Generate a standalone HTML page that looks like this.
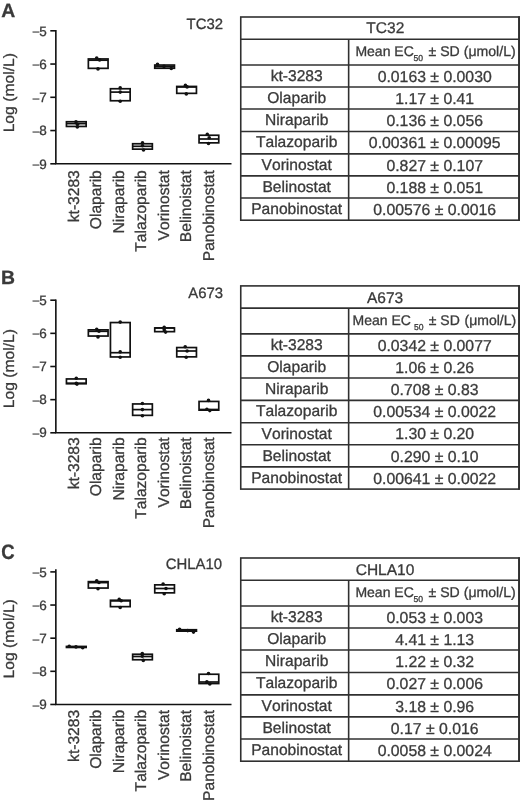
<!DOCTYPE html>
<html lang="en"><head><meta charset="utf-8"><title>Figure</title>
<style>html,body{margin:0;padding:0;background:#fff}svg{display:block}text{font-family:"Liberation Sans", sans-serif;fill:#3a3a3a;font-kerning:none;text-rendering:geometricPrecision;stroke:#3a3a3a;stroke-width:0.3px}.ax{stroke:#111;stroke-width:1.6;fill:none;stroke-linecap:butt}.bx{stroke:#111;stroke-width:1.7;fill:none}.dt{fill:#111}.tb{stroke:#303030;stroke-width:1.6;fill:none}</style></head><body>
<svg width="520" height="801" viewBox="0 0 520 801">
<rect width="520" height="801" fill="#fff"/>
<g transform="translate(0,0.00)">
<text transform="translate(1.25,16.90) scale(1.010,1)" font-size="19.2" font-weight="bold" stroke="#3a3a3a" stroke-width="0.3">A</text>
<text x="223.00" y="28.50" font-size="14.9" text-anchor="end">TC32</text>
<path class="ax" d="M55.85 30.00 V163.80 H231.50"/>
<path class="ax" d="M50.30 30.80 H55.85"/>
<text x="46.8" y="35.60" font-size="13.5" text-anchor="end"><tspan font-size="11.6" dy="-0.45">–</tspan><tspan dy="0.45">5</tspan></text>
<path class="ax" d="M50.30 64.05 H55.85"/>
<text x="46.8" y="68.85" font-size="13.5" text-anchor="end"><tspan font-size="11.6" dy="-0.45">–</tspan><tspan dy="0.45">6</tspan></text>
<path class="ax" d="M50.30 97.30 H55.85"/>
<text x="46.8" y="102.10" font-size="13.5" text-anchor="end"><tspan font-size="11.6" dy="-0.45">–</tspan><tspan dy="0.45">7</tspan></text>
<path class="ax" d="M50.30 130.55 H55.85"/>
<text x="46.8" y="135.35" font-size="13.5" text-anchor="end"><tspan font-size="11.6" dy="-0.45">–</tspan><tspan dy="0.45">8</tspan></text>
<path class="ax" d="M50.30 163.80 H55.85"/>
<text x="46.8" y="168.60" font-size="13.5" text-anchor="end"><tspan font-size="11.6" dy="-0.45">–</tspan><tspan dy="0.45">9</tspan></text>
<text transform="translate(13.7,92.70) rotate(-90) scale(1.045,1)" font-size="15.0" text-anchor="middle">Log (mol/L)</text>
<text transform="translate(78.90,170.20) rotate(-90)" font-size="15.6" text-anchor="end">kt-3283</text>
<text transform="translate(101.38,170.20) rotate(-90)" font-size="15.6" text-anchor="end">Olaparib</text>
<text transform="translate(123.86,170.20) rotate(-90)" font-size="15.6" text-anchor="end">Niraparib</text>
<text transform="translate(146.34,170.20) rotate(-90)" font-size="15.6" text-anchor="end">Talazoparib</text>
<text transform="translate(168.82,170.20) rotate(-90)" font-size="15.6" text-anchor="end">Vorinostat</text>
<text transform="translate(191.30,170.20) rotate(-90)" font-size="15.6" text-anchor="end">Belinoistat</text>
<text transform="translate(213.78,170.20) rotate(-90)" font-size="15.6" text-anchor="end">Panobinostat</text>
<rect class="bx" x="66.45" y="121.75" width="19.70" height="4.70"/>
<path class="bx" d="M66.45 123.60 H86.15"/>
<rect class="bx" x="88.35" y="58.95" width="19.70" height="9.40"/>
<path class="bx" d="M88.35 60.20 H108.05"/>
<rect class="bx" x="110.45" y="88.75" width="19.70" height="12.00"/>
<path class="bx" d="M110.45 92.10 H130.15"/>
<rect class="bx" x="132.65" y="143.75" width="19.70" height="5.40"/>
<path class="bx" d="M132.65 146.30 H152.35"/>
<rect class="bx" x="154.75" y="65.05" width="19.70" height="3.20"/>
<path class="bx" d="M154.75 66.60 H174.45"/>
<rect class="bx" x="176.75" y="86.45" width="19.70" height="6.90"/>
<path class="bx" d="M176.75 87.00 H196.45"/>
<rect class="bx" x="199.05" y="135.25" width="19.70" height="7.60"/>
<path class="bx" d="M199.05 139.00 H218.75"/>
<circle class="dt" cx="76.00" cy="121.70" r="1.8"/>
<circle class="dt" cx="77.50" cy="124.20" r="1.8"/>
<circle class="dt" cx="77.30" cy="126.90" r="1.8"/>
<circle class="dt" cx="96.70" cy="58.00" r="1.8"/>
<circle class="dt" cx="99.60" cy="59.90" r="1.8"/>
<circle class="dt" cx="98.00" cy="68.90" r="1.8"/>
<circle class="dt" cx="120.20" cy="87.90" r="1.8"/>
<circle class="dt" cx="120.20" cy="92.10" r="1.8"/>
<circle class="dt" cx="120.20" cy="101.30" r="1.8"/>
<circle class="dt" cx="142.50" cy="142.90" r="1.8"/>
<circle class="dt" cx="142.50" cy="145.80" r="1.8"/>
<circle class="dt" cx="143.50" cy="150.00" r="1.8"/>
<circle class="dt" cx="157.50" cy="64.30" r="1.8"/>
<circle class="dt" cx="164.00" cy="66.40" r="1.8"/>
<circle class="dt" cx="171.30" cy="68.50" r="1.8"/>
<circle class="dt" cx="185.40" cy="85.40" r="1.8"/>
<circle class="dt" cx="187.10" cy="86.90" r="1.8"/>
<circle class="dt" cx="186.30" cy="93.90" r="1.8"/>
<circle class="dt" cx="207.30" cy="134.40" r="1.8"/>
<circle class="dt" cx="209.20" cy="137.70" r="1.8"/>
<circle class="dt" cx="208.50" cy="143.50" r="1.8"/>
<rect class="tb" x="240.75" y="17.00" width="278.25" height="203.20"/>
<path class="tb" d="M240.75 39.20 H519.00"/>
<path class="tb" d="M240.75 65.00 H519.00"/>
<path class="tb" d="M240.75 87.00 H519.00"/>
<path class="tb" d="M240.75 109.05 H519.00"/>
<path class="tb" d="M240.75 131.50 H519.00"/>
<path class="tb" d="M240.75 153.85 H519.00"/>
<path class="tb" d="M240.75 175.90 H519.00"/>
<path class="tb" d="M240.75 198.00 H519.00"/>
<path class="tb" d="M348.65 39.20 V220.20"/>
<path class="tb" style="stroke-width:2" d="M519.2 16.30 V220.90"/>
<text x="385.30" y="33.15" font-size="15.5" text-anchor="middle">TC32</text>
<text x="355.40" y="56" font-size="14">Mean EC</text>
<text x="413.50" y="61.2" font-size="8.6">50</text>
<text x="515.7" y="56" font-size="14.1" text-anchor="end">± SD (μmol/L)</text>
<text x="296.7" y="81.10" font-size="15.6" text-anchor="middle">kt-3283</text>
<text x="434.7" y="82.00" font-size="15.8" text-anchor="middle">0.0163 ± 0.0030</text>
<text x="296.7" y="102.75" font-size="15.6" text-anchor="middle">Olaparib</text>
<text x="434.7" y="103.65" font-size="15.8" text-anchor="middle">1.17 ± 0.41</text>
<text x="296.7" y="124.75" font-size="15.6" text-anchor="middle">Niraparib</text>
<text x="434.7" y="125.65" font-size="15.8" text-anchor="middle">0.136 ± 0.056</text>
<text x="296.7" y="147.20" font-size="15.6" text-anchor="middle">Talazoparib</text>
<text x="434.7" y="148.10" font-size="15.8" text-anchor="middle">0.00361 ± 0.00095</text>
<text x="296.7" y="169.70" font-size="15.6" text-anchor="middle">Vorinostat</text>
<text x="434.7" y="170.60" font-size="15.8" text-anchor="middle">0.827 ± 0.107</text>
<text x="296.7" y="191.90" font-size="15.6" text-anchor="middle">Belinostat</text>
<text x="434.7" y="192.80" font-size="15.8" text-anchor="middle">0.188 ± 0.051</text>
<text x="296.7" y="214.05" font-size="15.6" text-anchor="middle">Panobinostat</text>
<text x="434.7" y="214.95" font-size="15.8" text-anchor="middle">0.00576 ± 0.0016</text>
</g>
<g transform="translate(0,268.90)">
<text transform="translate(1.00,15.40) scale(1.010,1)" font-size="19.2" font-weight="bold" stroke="#3a3a3a" stroke-width="0.3">B</text>
<text x="223.00" y="29.10" font-size="14.9" text-anchor="end">A673</text>
<path class="ax" d="M55.85 30.50 V163.90 H231.50"/>
<path class="ax" d="M50.30 31.30 H55.85"/>
<text x="46.8" y="35.70" font-size="13.5" text-anchor="end"><tspan font-size="11.6" dy="-0.45">–</tspan><tspan dy="0.45">5</tspan></text>
<path class="ax" d="M50.30 64.45 H55.85"/>
<text x="46.8" y="68.85" font-size="13.5" text-anchor="end"><tspan font-size="11.6" dy="-0.45">–</tspan><tspan dy="0.45">6</tspan></text>
<path class="ax" d="M50.30 97.60 H55.85"/>
<text x="46.8" y="102.00" font-size="13.5" text-anchor="end"><tspan font-size="11.6" dy="-0.45">–</tspan><tspan dy="0.45">7</tspan></text>
<path class="ax" d="M50.30 130.75 H55.85"/>
<text x="46.8" y="135.15" font-size="13.5" text-anchor="end"><tspan font-size="11.6" dy="-0.45">–</tspan><tspan dy="0.45">8</tspan></text>
<path class="ax" d="M50.30 163.90 H55.85"/>
<text x="46.8" y="168.30" font-size="13.5" text-anchor="end"><tspan font-size="11.6" dy="-0.45">–</tspan><tspan dy="0.45">9</tspan></text>
<text transform="translate(13.7,99.70) rotate(-90) scale(1.045,1)" font-size="15.0" text-anchor="middle">Log (mol/L)</text>
<text transform="translate(78.90,168.40) rotate(-90)" font-size="15.6" text-anchor="end">kt-3283</text>
<text transform="translate(101.38,168.40) rotate(-90)" font-size="15.6" text-anchor="end">Olaparib</text>
<text transform="translate(123.86,168.40) rotate(-90)" font-size="15.6" text-anchor="end">Niraparib</text>
<text transform="translate(146.34,168.40) rotate(-90)" font-size="15.6" text-anchor="end">Talazoparib</text>
<text transform="translate(168.82,168.40) rotate(-90)" font-size="15.6" text-anchor="end">Vorinostat</text>
<text transform="translate(191.30,168.40) rotate(-90)" font-size="15.6" text-anchor="end">Belinoistat</text>
<text transform="translate(213.78,168.40) rotate(-90)" font-size="15.6" text-anchor="end">Panobinostat</text>
<rect class="bx" x="66.45" y="110.05" width="19.70" height="4.80"/>
<path class="bx" d="M66.45 114.30 H86.15"/>
<rect class="bx" x="88.35" y="60.95" width="19.70" height="6.20"/>
<path class="bx" d="M88.35 62.40 H108.05"/>
<rect class="bx" x="110.45" y="53.65" width="19.70" height="34.40"/>
<path class="bx" d="M110.45 83.80 H130.15"/>
<rect class="bx" x="132.65" y="135.05" width="19.70" height="11.40"/>
<path class="bx" d="M132.65 140.70 H152.35"/>
<rect class="bx" x="154.75" y="59.05" width="19.70" height="3.70"/>
<path class="bx" d="M154.75 59.00 H174.45"/>
<rect class="bx" x="176.75" y="78.65" width="19.70" height="9.30"/>
<path class="bx" d="M176.75 82.10 H196.45"/>
<rect class="bx" x="199.05" y="132.55" width="19.70" height="8.70"/>
<path class="bx" d="M199.05 140.60 H218.75"/>
<circle class="dt" cx="76.30" cy="109.40" r="1.8"/>
<circle class="dt" cx="76.30" cy="114.50" r="1.8"/>
<circle class="dt" cx="77.00" cy="115.20" r="1.8"/>
<circle class="dt" cx="96.70" cy="60.30" r="1.8"/>
<circle class="dt" cx="99.00" cy="62.40" r="1.8"/>
<circle class="dt" cx="98.00" cy="68.00" r="1.8"/>
<circle class="dt" cx="120.20" cy="53.20" r="1.8"/>
<circle class="dt" cx="120.20" cy="83.00" r="1.8"/>
<circle class="dt" cx="120.20" cy="88.40" r="1.8"/>
<circle class="dt" cx="142.40" cy="134.60" r="1.8"/>
<circle class="dt" cx="142.40" cy="140.70" r="1.8"/>
<circle class="dt" cx="142.40" cy="146.90" r="1.8"/>
<circle class="dt" cx="164.20" cy="58.40" r="1.8"/>
<circle class="dt" cx="164.20" cy="60.90" r="1.8"/>
<circle class="dt" cx="165.60" cy="63.20" r="1.8"/>
<circle class="dt" cx="185.20" cy="77.80" r="1.8"/>
<circle class="dt" cx="187.10" cy="82.10" r="1.8"/>
<circle class="dt" cx="186.20" cy="88.40" r="1.8"/>
<circle class="dt" cx="208.50" cy="131.50" r="1.8"/>
<circle class="dt" cx="206.90" cy="140.30" r="1.8"/>
<circle class="dt" cx="209.80" cy="141.70" r="1.8"/>
<rect class="tb" x="240.75" y="17.00" width="278.25" height="203.20"/>
<path class="tb" d="M240.75 39.20 H519.00"/>
<path class="tb" d="M240.75 65.00 H519.00"/>
<path class="tb" d="M240.75 87.00 H519.00"/>
<path class="tb" d="M240.75 109.05 H519.00"/>
<path class="tb" d="M240.75 131.50 H519.00"/>
<path class="tb" d="M240.75 153.85 H519.00"/>
<path class="tb" d="M240.75 175.90 H519.00"/>
<path class="tb" d="M240.75 198.00 H519.00"/>
<path class="tb" d="M348.65 39.20 V220.20"/>
<path class="tb" style="stroke-width:2" d="M519.2 16.30 V220.90"/>
<text x="385.10" y="33.95" font-size="15.5" text-anchor="middle">A673</text>
<text x="352.50" y="56" font-size="14">Mean EC</text>
<text x="414.00" y="61.2" font-size="8.6">50</text>
<text x="428.8" y="56" font-size="14">± SD</text>
<text x="516.2" y="56" font-size="14" text-anchor="end">(μmol/L)</text>
<text x="296.7" y="81.10" font-size="15.6" text-anchor="middle">kt-3283</text>
<text x="434.7" y="82.00" font-size="15.8" text-anchor="middle">0.0342 ± 0.0077</text>
<text x="296.7" y="102.75" font-size="15.6" text-anchor="middle">Olaparib</text>
<text x="434.7" y="103.65" font-size="15.8" text-anchor="middle">1.06 ± 0.26</text>
<text x="296.7" y="124.75" font-size="15.6" text-anchor="middle">Niraparib</text>
<text x="434.7" y="125.65" font-size="15.8" text-anchor="middle">0.708 ± 0.83</text>
<text x="296.7" y="147.20" font-size="15.6" text-anchor="middle">Talazoparib</text>
<text x="434.7" y="148.10" font-size="15.8" text-anchor="middle">0.00534 ± 0.0022</text>
<text x="296.7" y="169.70" font-size="15.6" text-anchor="middle">Vorinostat</text>
<text x="434.7" y="170.60" font-size="15.8" text-anchor="middle">1.30 ± 0.20</text>
<text x="296.7" y="191.90" font-size="15.6" text-anchor="middle">Belinostat</text>
<text x="434.7" y="192.80" font-size="15.8" text-anchor="middle">0.290 ± 0.10</text>
<text x="296.7" y="214.05" font-size="15.6" text-anchor="middle">Panobinostat</text>
<text x="434.7" y="214.95" font-size="15.8" text-anchor="middle">0.00641 ± 0.0022</text>
</g>
<g transform="translate(0,541.00)">
<text transform="translate(1.30,18.35) scale(0.885,1)" font-size="20.9" font-weight="bold" stroke="#3a3a3a" stroke-width="0.3">C</text>
<text x="222.00" y="28.20" font-size="14.9" text-anchor="end">CHLA10</text>
<path class="ax" d="M55.85 28.30 V163.46 H231.50"/>
<path class="ax" d="M50.30 30.90 H55.85"/>
<text x="46.8" y="35.70" font-size="13.5" text-anchor="end"><tspan font-size="11.6" dy="-0.45">–</tspan><tspan dy="0.45">5</tspan></text>
<path class="ax" d="M50.30 64.04 H55.85"/>
<text x="46.8" y="68.84" font-size="13.5" text-anchor="end"><tspan font-size="11.6" dy="-0.45">–</tspan><tspan dy="0.45">6</tspan></text>
<path class="ax" d="M50.30 97.18 H55.85"/>
<text x="46.8" y="101.98" font-size="13.5" text-anchor="end"><tspan font-size="11.6" dy="-0.45">–</tspan><tspan dy="0.45">7</tspan></text>
<path class="ax" d="M50.30 130.32 H55.85"/>
<text x="46.8" y="135.12" font-size="13.5" text-anchor="end"><tspan font-size="11.6" dy="-0.45">–</tspan><tspan dy="0.45">8</tspan></text>
<path class="ax" d="M50.30 163.46 H55.85"/>
<text x="46.8" y="168.26" font-size="13.5" text-anchor="end"><tspan font-size="11.6" dy="-0.45">–</tspan><tspan dy="0.45">9</tspan></text>
<text transform="translate(13.7,97.80) rotate(-90) scale(1.045,1)" font-size="15.0" text-anchor="middle">Log (mol/L)</text>
<text transform="translate(78.90,168.90) rotate(-90)" font-size="15.6" text-anchor="end">kt-3283</text>
<text transform="translate(101.38,168.90) rotate(-90)" font-size="15.6" text-anchor="end">Olaparib</text>
<text transform="translate(123.86,168.90) rotate(-90)" font-size="15.6" text-anchor="end">Niraparib</text>
<text transform="translate(146.34,168.90) rotate(-90)" font-size="15.6" text-anchor="end">Talazoparib</text>
<text transform="translate(168.82,168.90) rotate(-90)" font-size="15.6" text-anchor="end">Vorinostat</text>
<text transform="translate(191.30,168.90) rotate(-90)" font-size="15.6" text-anchor="end">Belinoistat</text>
<text transform="translate(213.78,168.90) rotate(-90)" font-size="15.6" text-anchor="end">Panobinostat</text>
<rect class="bx" x="66.45" y="105.45" width="19.70" height="1.00"/>
<path class="bx" d="M66.45 105.90 H86.15"/>
<rect class="bx" x="88.35" y="40.65" width="19.70" height="6.40"/>
<path class="bx" d="M88.35 41.60 H108.05"/>
<rect class="bx" x="110.45" y="59.25" width="19.70" height="6.40"/>
<path class="bx" d="M110.45 59.90 H130.15"/>
<rect class="bx" x="132.65" y="113.25" width="19.70" height="5.50"/>
<path class="bx" d="M132.65 115.50 H152.35"/>
<rect class="bx" x="154.75" y="43.85" width="19.70" height="8.00"/>
<path class="bx" d="M154.75 47.50 H174.45"/>
<rect class="bx" x="176.75" y="88.75" width="19.70" height="1.40"/>
<path class="bx" d="M176.75 89.40 H196.45"/>
<rect class="bx" x="199.05" y="133.25" width="19.70" height="9.30"/>
<path class="bx" d="M199.05 141.00 H218.75"/>
<circle class="dt" cx="69.20" cy="105.30" r="1.8"/>
<circle class="dt" cx="76.00" cy="105.90" r="1.8"/>
<circle class="dt" cx="82.70" cy="106.80" r="1.8"/>
<circle class="dt" cx="96.70" cy="39.80" r="1.8"/>
<circle class="dt" cx="99.00" cy="41.50" r="1.8"/>
<circle class="dt" cx="98.00" cy="47.80" r="1.8"/>
<circle class="dt" cx="119.20" cy="58.40" r="1.8"/>
<circle class="dt" cx="121.20" cy="59.80" r="1.8"/>
<circle class="dt" cx="120.20" cy="66.50" r="1.8"/>
<circle class="dt" cx="142.30" cy="112.50" r="1.8"/>
<circle class="dt" cx="142.30" cy="115.20" r="1.8"/>
<circle class="dt" cx="143.30" cy="119.40" r="1.8"/>
<circle class="dt" cx="163.10" cy="43.00" r="1.8"/>
<circle class="dt" cx="166.00" cy="47.50" r="1.8"/>
<circle class="dt" cx="164.20" cy="52.70" r="1.8"/>
<circle class="dt" cx="179.60" cy="88.20" r="1.8"/>
<circle class="dt" cx="187.70" cy="89.60" r="1.8"/>
<circle class="dt" cx="193.50" cy="91.10" r="1.8"/>
<circle class="dt" cx="208.50" cy="132.50" r="1.8"/>
<circle class="dt" cx="206.90" cy="140.70" r="1.8"/>
<circle class="dt" cx="209.80" cy="143.00" r="1.8"/>
<rect class="tb" x="240.75" y="17.00" width="278.25" height="203.20"/>
<path class="tb" d="M240.75 39.20 H519.00"/>
<path class="tb" d="M240.75 65.00 H519.00"/>
<path class="tb" d="M240.75 87.00 H519.00"/>
<path class="tb" d="M240.75 109.05 H519.00"/>
<path class="tb" d="M240.75 131.50 H519.00"/>
<path class="tb" d="M240.75 153.85 H519.00"/>
<path class="tb" d="M240.75 175.90 H519.00"/>
<path class="tb" d="M240.75 198.00 H519.00"/>
<path class="tb" d="M348.65 39.20 V220.20"/>
<path class="tb" style="stroke-width:2" d="M519.2 16.30 V220.90"/>
<text x="385.00" y="33.70" font-size="15.5" text-anchor="middle">CHLA10</text>
<text x="355.40" y="56" font-size="14">Mean EC</text>
<text x="413.50" y="61.2" font-size="8.6">50</text>
<text x="515.7" y="56" font-size="14.1" text-anchor="end">± SD (μmol/L)</text>
<text x="296.7" y="81.10" font-size="15.6" text-anchor="middle">kt-3283</text>
<text x="434.7" y="82.00" font-size="15.8" text-anchor="middle">0.053 ± 0.003</text>
<text x="296.7" y="102.75" font-size="15.6" text-anchor="middle">Olaparib</text>
<text x="434.7" y="103.65" font-size="15.8" text-anchor="middle">4.41 ± 1.13</text>
<text x="296.7" y="124.75" font-size="15.6" text-anchor="middle">Niraparib</text>
<text x="434.7" y="125.65" font-size="15.8" text-anchor="middle">1.22 ± 0.32</text>
<text x="296.7" y="147.20" font-size="15.6" text-anchor="middle">Talazoparib</text>
<text x="434.7" y="148.10" font-size="15.8" text-anchor="middle">0.027 ± 0.006</text>
<text x="296.7" y="169.70" font-size="15.6" text-anchor="middle">Vorinostat</text>
<text x="434.7" y="170.60" font-size="15.8" text-anchor="middle">3.18 ± 0.96</text>
<text x="296.7" y="191.90" font-size="15.6" text-anchor="middle">Belinostat</text>
<text x="434.7" y="192.80" font-size="15.8" text-anchor="middle">0.17 ± 0.016</text>
<text x="296.7" y="214.05" font-size="15.6" text-anchor="middle">Panobinostat</text>
<text x="434.7" y="214.95" font-size="15.8" text-anchor="middle">0.0058 ± 0.0024</text>
</g>
</svg></body></html>
